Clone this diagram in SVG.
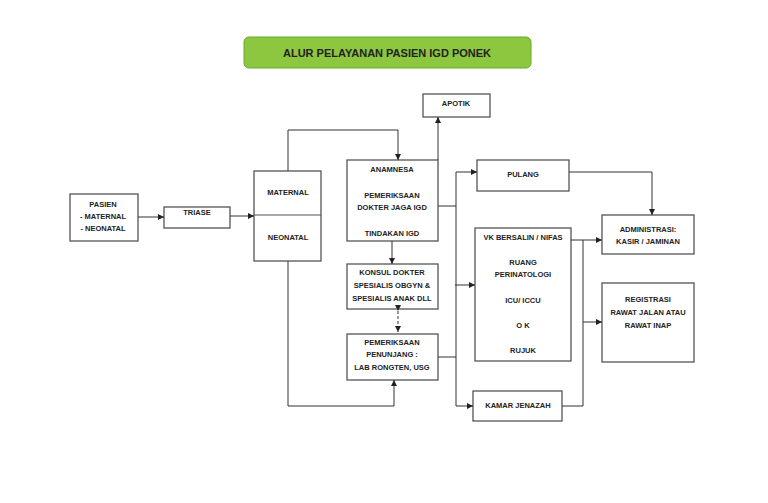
<svg xmlns="http://www.w3.org/2000/svg" width="768" height="503" viewBox="0 0 768 503">
<style>
.b{fill:#fff;stroke:#555;stroke-width:1.3}
text{font-family:"Liberation Sans",Arial,sans-serif;font-weight:bold;font-size:7.5px;fill:#222;text-anchor:middle}
.c{fill:none;stroke:#333;stroke-width:1}
</style>
<defs><marker id="a" viewBox="0 0 6 6" refX="6" refY="3" markerWidth="6" markerHeight="6" orient="auto"><path d="M0,0L6,3L0,6z" fill="#222"/></marker></defs>
<rect width="768" height="503" fill="#fff"/>
<g id="title"><rect x="244" y="37" width="287" height="31" rx="5" fill="#8dc63f" stroke="#6aa82c"/><text x="387" y="57" style="font-size:11px">ALUR PELAYANAN PASIEN IGD PONEK</text></g>
<g id="pasien"><rect class="b" x="70" y="194" width="68" height="47"/><text x="103" y="207">PASIEN</text><text x="103" y="219">- MATERNAL</text><text x="103" y="231">- NEONATAL</text></g>
<g id="triase"><rect class="b" x="164" y="207" width="66" height="21"/><text x="197" y="215">TRIASE</text></g>
<g id="matneo"><rect class="b" x="254" y="171" width="67" height="90"/><line x1="254" y1="215" x2="321" y2="215" stroke="#555"/><text x="288" y="195">MATERNAL</text><text x="288" y="240">NEONATAL</text></g>
<g id="apotik"><rect class="b" x="423" y="94" width="67" height="23"/><text x="456" y="106">APOTIK</text></g>
<g id="anamnesa"><rect class="b" x="347" y="160" width="91" height="81"/><text x="392" y="172">ANAMNESA</text><text x="392" y="198">PEMERIKSAAN</text><text x="392" y="210">DOKTER JAGA IGD</text><text x="392" y="236">TINDAKAN IGD</text></g>
<g id="konsul"><rect class="b" x="347" y="264" width="91" height="45"/><text x="392" y="275">KONSUL DOKTER</text><text x="392" y="288">SPESIALIS OBGYN &amp;</text><text x="392" y="301">SPESIALIS ANAK DLL</text></g>
<g id="penunjang"><rect class="b" x="347" y="334" width="91" height="46"/><text x="392" y="345">PEMERIKSAAN</text><text x="392" y="357">PENUNJANG :</text><text x="392" y="370">LAB RONGTEN, USG</text></g>
<g id="pulang"><rect class="b" x="477" y="160" width="92" height="31"/><text x="523" y="177">PULANG</text></g>
<g id="vk"><rect class="b" x="475" y="228" width="96" height="133"/><text x="523" y="240">VK BERSALIN / NIFAS</text><text x="523" y="265">RUANG</text><text x="523" y="277">PERINATOLOGI</text><text x="523" y="303">ICU/ ICCU</text><text x="523" y="328">O K</text><text x="523" y="353">RUJUK</text></g>
<g id="jenazah"><rect class="b" x="473" y="391" width="89" height="30"/><text x="518" y="408">KAMAR JENAZAH</text></g>
<g id="admin"><rect class="b" x="602" y="215" width="92" height="39"/><text x="648" y="232">ADMINISTRASI:</text><text x="648" y="244">KASIR / JAMINAN</text></g>
<g id="registrasi"><rect class="b" x="602" y="283" width="92" height="79"/><text x="648" y="302">REGISTRASI</text><text x="648" y="315">RAWAT JALAN ATAU</text><text x="648" y="328">RAWAT INAP</text></g>
<g id="connectors">
<path class="c" d="M138,217H164" marker-end="url(#a)"/>
<path class="c" d="M230,216H254" marker-end="url(#a)"/>
<path class="c" d="M288,171V130H398V160" marker-end="url(#a)"/>
<path class="c" d="M438,160V117" marker-end="url(#a)"/>
<path class="c" d="M392,241V264" marker-end="url(#a)"/>
<path class="c" d="M398,311V332" stroke-dasharray="3,2" marker-start="url(#a)" marker-end="url(#a)"/>
<path class="c" d="M288,261V406H394V380" marker-end="url(#a)"/>
<path class="c" d="M438,206H456"/>
<path class="c" d="M456,206V172H477" marker-end="url(#a)"/>
<path class="c" d="M456,206V406H473" marker-end="url(#a)"/>
<path class="c" d="M455,285H475" marker-end="url(#a)"/>
<path class="c" d="M438,357H456"/>
<path class="c" d="M569,172H652V215" marker-end="url(#a)"/>
<path class="c" d="M571,240H602" marker-end="url(#a)"/>
<path class="c" d="M583,240V406H562"/>
<path class="c" d="M583,322H602" marker-end="url(#a)"/>
</g>
</svg>
